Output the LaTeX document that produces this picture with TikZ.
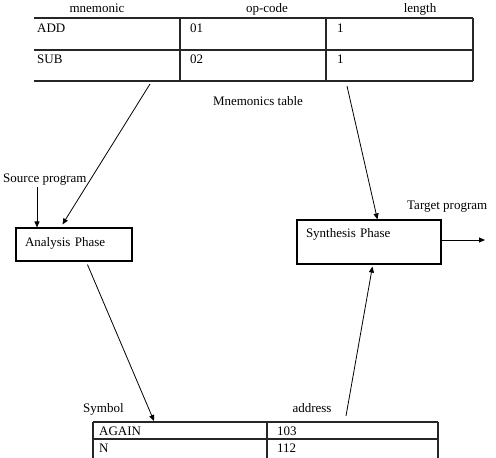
\documentclass[tikz,border=0pt]{standalone}
\usepackage{fontspec}
\setmainfont{Liberation Serif}
\usetikzlibrary{arrows.meta,positioning,calc}

\begin{document}
\begin{tikzpicture}[x=1pt, y=-1pt,
  every node/.style={font=\fontsize{13}{15}\selectfont, inner sep=0pt},
  rule/.style={line width=1.1pt, draw=black!85},
  cell/.style={anchor=base west},
  head/.style={anchor=base},
  phase/.style={draw, line width=1.1pt, align=left, inner xsep=9pt, inner ysep=4pt},
  flow/.style={-{Triangle[length=6pt,width=5pt]}, line width=0.8pt}]
  \useasboundingbox (0,0) rectangle (496,458);
  % mnemonics table
  \node[head] (hmn) at (97,12) {mnemonic};
  \node[head] (hop) at (267,12) {op-code};
  \node[head] (hlen) at (420,12) {length};
  \draw[rule] (34,18) -- (473,18) (34,50) -- (473,50);
  \draw[rule, line width=1.6pt] (34,81) -- (473,81);
  \draw[rule] (180,18) -- (180,81) (326,18) -- (326,81) (473,18) -- (473,81);
  \node[cell] (add) at (37,32) {ADD};
  \node[cell] (addop) at (190,32) {01};
  \node[cell] (addlen) at (337,32) {1};
  \node[cell] (sub) at (37,63) {SUB};
  \node[cell] (subop) at (190,63) {02};
  \node[cell] (sublen) at (337,63) {1};
  \node[head] (mtab) at (258,105) {Mnemonics table};
  \coordinate (mtl) at (150,84);
  \coordinate (mtr) at (347,86);

  % phases
  \node[cell] (src) at (3,182) {Source program};
  \coordinate (srcin) at (37,187);
  \node[phase, text width=98pt, text height=14pt, text depth=11pt] (ana) at (74,244.5) {Analysis Phase};
  \node[phase, text width=126pt, text height=13pt, text depth=23pt] (syn) at (369,242) {Synthesis Phase};
  \node[cell] (tgtlbl) at (407,209) {Target program};
  \coordinate (tgt) at (485,240);

  % symbol table
  \node[cell] (hsym) at (83,412) {Symbol};
  \node[head] (hadr) at (312,412) {address};
  \draw[rule] (93,422) -- (438,422) (93,439) -- (438,439);
  \draw[rule] (93,422) -- (93,460) (267,422) -- (267,460) (438,422) -- (438,460);
  \node[cell] (again) at (99,435) {AGAIN};
  \node[cell] (againadr) at (277,435) {103};
  \node[cell] (n) at (99,452) {N};
  \node[cell] (nadr) at (277,452) {112};
  \coordinate (symin) at (154,421);
  \coordinate (symout) at (346,416);

  % connectors
  \draw[flow] (srcin) -- (srcin |- ana.north);
  \draw[flow] (mtl) -- ([xshift=47pt,yshift=3pt]ana.north west);
  \draw[flow] (mtr) -- ([xshift=81pt]syn.north west);
  \draw[flow] (syn.east |- tgt) -- (tgt);
  \draw[flow] ([xshift=72pt,yshift=-3pt]ana.south west) -- (symin);
  \draw[flow] (symout) -- ([xshift=76pt,yshift=-2pt]syn.south west);
\end{tikzpicture}
\end{document}
